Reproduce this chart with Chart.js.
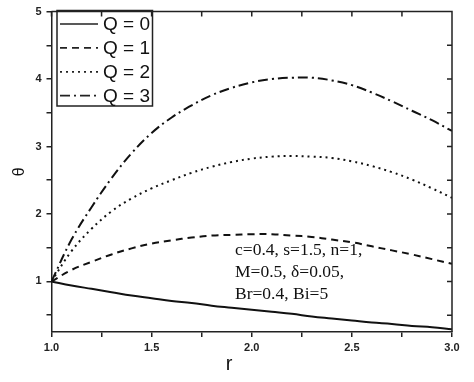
<!DOCTYPE html>
<html>
<head>
<meta charset="utf-8">
<script src="https://cdn.jsdelivr.net/npm/chart.js@4.4.1/dist/chart.umd.min.js"></script>
<style>
body{margin:0;background:#fff}
canvas{display:block}
</style>
</head>
<body>
<canvas id="chart" width="474" height="382"></canvas>
<script>
const rValues=[1.0,1.1,1.2,1.3,1.4,1.5,1.6,1.7,1.8,1.9,2.0,2.1,2.2,2.3,2.4,2.5,2.6,2.7,2.8,2.9,3.0]

const q0=[1.00,0.94,0.89,0.84,0.79,0.75,0.71,0.68,0.64,0.61,0.58,0.55,0.52,0.48,0.45,0.42,0.39,0.37,0.34,0.32,0.29]
const q1=[1.00,1.17,1.29,1.40,1.49,1.56,1.61,1.65,1.68,1.69,1.70,1.70,1.68,1.66,1.62,1.58,1.52,1.46,1.40,1.33,1.26]
const q2=[1.00,1.45,1.78,2.04,2.23,2.38,2.50,2.61,2.70,2.77,2.82,2.85,2.86,2.85,2.83,2.78,2.71,2.62,2.51,2.38,2.24]
const q3=[1.00,1.62,2.10,2.53,2.90,3.20,3.43,3.61,3.76,3.87,3.95,4.00,4.02,4.02,3.98,3.91,3.80,3.67,3.53,3.39,3.23]

const seriesNames=["Q = 0","Q = 1","Q = 2","Q = 3"]

const xTickValues=[1,1.25,1.5,1.75,2,2.25,2.5,2.75,3]
const yTickValues=[0.5,1,1.5,2,2.5,3,3.5,4,4.5,5]

const noteLines=["c=0.4, s=1.5, n=1,","M=0.5, δ=0.05,","Br=0.4, Bi=5"]

const dashes=[[],[7,5],[2,4],[10,4,2,4]]
const ink="#222"

// top/right frame, legend box, note text and x title
const extras={
id:"extras",
afterDraw(c){

const {ctx,chartArea:a,scales:{x,y}}=c

ctx.save()
ctx.strokeStyle=ink
ctx.lineWidth=1.5
ctx.setLineDash([])
ctx.beginPath()
ctx.moveTo(a.left,a.top)
ctx.lineTo(a.right,a.top)
ctx.lineTo(a.right,a.bottom)
xTickValues.forEach(v=>{
const px=x.getPixelForValue(v)
ctx.moveTo(px,a.top)
ctx.lineTo(px,a.top+5)
})
yTickValues.forEach(v=>{
const py=y.getPixelForValue(v)
ctx.moveTo(a.right,py)
ctx.lineTo(a.right-5,py)
})
ctx.stroke()

// legend
ctx.lineWidth=1.5
ctx.strokeRect(57,10.5,95.5,95.5)
ctx.font="19px Arial"
ctx.fillStyle="#111"
ctx.textBaseline="middle"
ctx.textAlign="left"
seriesNames.forEach((n,i)=>{
const ly=24+i*23.9
ctx.beginPath()
ctx.setLineDash(dashes[i])
ctx.lineWidth=1.7
ctx.moveTo(60,ly)
ctx.lineTo(98,ly)
ctx.stroke()
ctx.fillText(n,103,ly+1)
})
ctx.setLineDash([])

// parameter note
ctx.font="17.5px 'Liberation Serif'"
ctx.textBaseline="alphabetic"
noteLines.forEach((t,i)=>{
ctx.fillText(t,235,255+i*22)
})

// x title
ctx.font="20px Arial"
ctx.textAlign="center"
ctx.fillText("r",229,370)

ctx.restore()

}
}

const datasets=[q0,q1,q2,q3].map((s,i)=>({
label:seriesNames[i],
data:rValues.map((r,j)=>({x:r,y:s[j]})),
borderColor:"#111",
borderWidth:2,
borderDash:dashes[i],
pointRadius:0,
tension:0.4,
fill:false
}))

new Chart(document.getElementById("chart"),{
type:"line",
data:{datasets:datasets},
options:{
responsive:false,
animation:false,
layout:{padding:{top:6,right:22,left:0,bottom:0}},
plugins:{legend:{display:false},tooltip:{enabled:false}},
scales:{
x:{
type:"linear",
min:1,
max:3,
afterBuildTicks:s=>{s.ticks=xTickValues.map(v=>({value:v}))},
afterFit:s=>{s.height=50},
grid:{drawOnChartArea:false,drawTicks:true,tickLength:5,color:ink,lineWidth:1.5},
border:{display:true,color:ink,width:1.5},
ticks:{
padding:4,
color:ink,
font:{family:"Arial",size:11,weight:"bold"},
maxRotation:0,
autoSkip:false,
callback:v=>Number.isInteger(v*2)?v.toFixed(1):""
}
},
y:{
min:0.25,
max:5,
afterBuildTicks:s=>{s.ticks=yTickValues.map(v=>({value:v}))},
afterFit:s=>{s.width=51.5},
grid:{drawOnChartArea:false,drawTicks:true,tickLength:5,color:ink,lineWidth:1.5},
border:{display:true,color:ink,width:1.5},
title:{display:true,text:"θ",color:"#111",font:{family:"Arial",size:16},padding:{top:10,bottom:0}},
ticks:{
padding:5,
color:ink,
font:{family:"Arial",size:11,weight:"bold"},
autoSkip:false,
callback:v=>Number.isInteger(v)?String(v):""
}
}
}
},
plugins:[extras]
})
</script>
</body>
</html>
